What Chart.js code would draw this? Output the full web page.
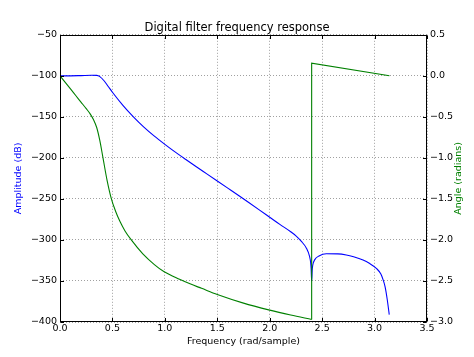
<!DOCTYPE html>
<html><head><meta charset="utf-8">
<script src="https://cdn.jsdelivr.net/npm/chart.js@4/dist/chart.umd.min.js"></script>
<style>html,body{margin:0;padding:0;background:#fff;overflow:hidden}</style>
</head><body>
<canvas id="c" width="474" height="357" style="width:474px;height:357px;display:block"></canvas>
<script>
const titleText = 'Digital filter frequency response';
const xLabel = 'Frequency (rad/sample)';
const yLeftLabel = 'Amplitude (dB)';
const yRightLabel = 'Angle (radians)';

const xTicks = [0, 0.5, 1.0, 1.5, 2.0, 2.5, 3.0, 3.5];
const ampTicks = [-400, -350, -300, -250, -200, -150, -100, -50];
const angleTicks = [-3.0, -2.5, -2.0, -1.5, -1.0, -0.5, 0.0, 0.5];

const ampFreq = [0, 0.1, 0.2, 0.3, 0.35, 0.38, 0.42, 0.46, 0.5, 0.6, 0.7, 0.8, 0.9, 1.0, 1.1, 1.2, 1.3, 1.4, 1.5, 1.6, 1.7, 1.8, 1.9, 2.0, 2.1, 2.2, 2.25, 2.3, 2.35, 2.38, 2.39, 2.395, 2.4, 2.405, 2.41, 2.43, 2.47, 2.54, 2.65, 2.73, 2.8, 2.89, 2.95, 3.02, 3.06, 3.08, 3.10, 3.12, 3.14];
const ampDb = [-100, -100, -99.7, -99.3, -99.5, -101, -106, -113, -120, -136, -150, -162.5, -173.5, -183.5, -193, -202, -210.8, -219.5, -228.2, -236.9, -245.6, -254.4, -263.3, -272.3, -281.3, -290, -295, -301.5, -310, -320, -327, -335, -350, -337, -331, -324, -319.5, -316.8, -317, -318.3, -320.5, -324.5, -328.5, -335, -341.5, -348, -357, -372, -391];

// phase (unwrapped angle); wraps at 2.4 rad/sample
const angleFreq = [0, 0.05, 0.1, 0.15, 0.2, 0.25, 0.286, 0.32, 0.35, 0.38, 0.41, 0.45, 0.49, 0.53, 0.57, 0.62, 0.68, 0.79, 0.9, 0.99, 1.14, 1.24, 1.35, 1.5, 1.75, 2.0, 2.2, 2.4, 2.4, 3.1416];
const angleRad = [0, -0.08, -0.16, -0.24, -0.32, -0.40, -0.46, -0.535, -0.63, -0.79, -1.0, -1.28, -1.5, -1.65, -1.77, -1.89, -2.0, -2.17, -2.30, -2.385, -2.48, -2.535, -2.59, -2.665, -2.77, -2.855, -2.915, -2.97, 0.155, 0.0];
const angleWrapIndex = 27; // index of last point before the jump

const fmtMinus = s => s.replace('-', '\u2212');

Chart.defaults.font.family = 'DejaVu Sans';
Chart.defaults.font.size = 9.5;
Chart.defaults.color = '#000';

const framePlugin = {
  id: 'frame',
  afterDraw(chart) {
    const ctx = chart.ctx;
    const a = chart.chartArea;
    const L = Math.round(a.left) + 0.5, R = Math.round(a.right) - 0.5;
    const T = Math.round(a.top) + 0.5, B = Math.round(a.bottom) - 0.5;
    ctx.save();
    ctx.strokeStyle = '#000';
    ctx.lineWidth = 1;
    ctx.strokeRect(L, T, R - L, B - T);
    const tl = 3.5;
    ctx.beginPath();
    const xs = chart.scales.x;
    xTicks.forEach(v => {
      const px = Math.round(xs.getPixelForValue(v)) + 0.5;
      ctx.moveTo(px, B); ctx.lineTo(px, B - tl);
      ctx.moveTo(px, T); ctx.lineTo(px, T + tl);
    });
    const ys = chart.scales.y;
    ampTicks.forEach(v => {
      const py = Math.round(ys.getPixelForValue(v)) + 0.5;
      ctx.moveTo(L, py); ctx.lineTo(L + tl, py);
    });
    const y2 = chart.scales.y2;
    angleTicks.forEach(v => {
      const py = Math.round(y2.getPixelForValue(v)) + 0.5;
      ctx.moveTo(R, py); ctx.lineTo(R - tl, py);
    });
    ctx.stroke();
    ctx.translate(458.5, (a.top + a.bottom) / 2);
    ctx.rotate(-Math.PI / 2);
    ctx.fillStyle = '#008000';
    ctx.font = '9.5px "DejaVu Sans"';
    ctx.textAlign = 'center';
    ctx.textBaseline = 'middle';
    ctx.fillText(yRightLabel, 0, 0);
    ctx.restore();
  }
};

const anglePts = angleFreq.map((f, i) => ({ x: f, y: angleRad[i] }));

new Chart(document.getElementById('c'), {
  type: 'line',
  data: {
    datasets: [
      {
        label: 'Angle',
        data: anglePts.slice(0, angleWrapIndex + 1),
        yAxisID: 'y2',
        borderColor: '#008000',
        borderWidth: 1.1,
        pointRadius: 0,
        cubicInterpolationMode: 'monotone',
        fill: false,
        order: 0
      },
      {
        label: 'Angle (wrapped)',
        data: anglePts.slice(angleWrapIndex),
        yAxisID: 'y2',
        borderColor: '#008000',
        borderWidth: 1.1,
        pointRadius: 0,
        tension: 0,
        fill: false,
        order: 0
      },
      {
        label: 'Amplitude',
        data: ampFreq.map((f, i) => ({ x: f, y: ampDb[i] })),
        yAxisID: 'y',
        borderColor: '#0000ff',
        borderWidth: 1.1,
        pointRadius: 0,
        cubicInterpolationMode: 'monotone',
        fill: false,
        order: 1
      }
    ]
  },
  options: {
    responsive: false,
    animation: false,
    devicePixelRatio: 1,
    layout: { padding: 0 },
    plugins: {
      legend: { display: false },
      tooltip: { enabled: false },
      title: {
        display: true,
        text: titleText,
        color: '#000',
        font: { size: 11.5, weight: 'normal', family: 'DejaVu Sans' },
        padding: { top: 21, bottom: 0 }
      }
    },
    scales: {
      x: {
        type: 'linear',
        position: 'bottom',
        min: 0, max: 3.5,
        afterBuildTicks: s => { s.ticks = xTicks.map(v => ({ value: v })); },
        afterFit: s => { s.height = 35; },
        ticks: { autoSkip: false, maxRotation: 0, padding: 1, callback: v => v.toFixed(1) },
        grid: { color: '#a0a0a0', drawTicks: false, lineWidth: 1 },
        border: { display: false, dash: [1, 2] },
        title: { display: true, text: xLabel, color: '#000', padding: { top: 0, bottom: 10 } }
      },
      y: {
        type: 'linear',
        position: 'left',
        min: -400, max: -50,
        afterBuildTicks: s => { s.ticks = ampTicks.map(v => ({ value: v })); },
        afterFit: s => { s.width = 60; },
        ticks: { autoSkip: false, padding: 3, callback: v => fmtMinus(String(v)) },
        grid: { color: '#a0a0a0', drawTicks: false, lineWidth: 1 },
        border: { display: false, dash: [1, 2] },
        title: { display: true, text: yLeftLabel, color: '#0000ff', padding: { top: 13, bottom: 0 } }
      },
      y2: {
        type: 'linear',
        position: 'right',
        min: -3.0, max: 0.5,
        afterBuildTicks: s => { s.ticks = angleTicks.map(v => ({ value: v })); },
        afterFit: s => { s.width = 47; },
        ticks: { autoSkip: false, padding: 3, callback: v => fmtMinus(v.toFixed(1)) },
        grid: { display: false, drawTicks: false },
        border: { display: false }
      }
    }
  },
  plugins: [framePlugin]
});
</script>
</body></html>
